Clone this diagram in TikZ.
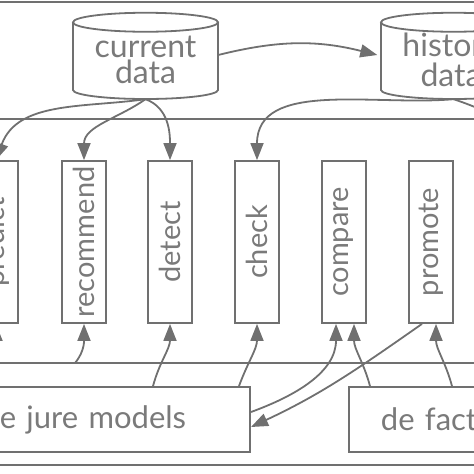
\documentclass[tikz,border=0pt]{standalone}
\usepackage{fontspec}
\setmainfont{Lato}
\usepackage{graphicx}
\usetikzlibrary{arrows.meta}
\definecolor{ln}{HTML}{707070}
\definecolor{tx}{HTML}{7A7A7A}
\begin{document}
\begin{tikzpicture}[x=1pt,y=1pt,
  lay/.style={draw=ln, line width=1.6pt, rectangle, inner sep=0pt, minimum width=520pt},
  verb/.style={draw=ln, line width=1.8pt, rectangle, inner sep=0pt, minimum width=44pt, minimum height=162pt, text=tx, font=\fontsize{29}{29}\selectfont},
  cyl/.style={rectangle, inner sep=0pt, minimum width=145pt, minimum height=86.5pt, align=center, text=tx, font=\fontsize{32}{26}\selectfont},
  cylline/.style={draw=ln, line width=1.8pt},
  model/.style={draw=ln, line width=1.8pt, rectangle, inner ysep=0pt, minimum height=65pt, text width=250pt, text=tx, font=\fontsize{31}{31}\selectfont},
  conn/.style={draw=ln, line width=1.8pt, -{Triangle[length=17pt,width=13pt]}},
]
\useasboundingbox (0,0) rectangle (474,-474);
\clip (0,0) rectangle (474,-474);
% layers
\node[lay, minimum height=117pt] (datalayer) at (237,-60.5) {};
\node[lay, minimum height=244pt] (actlayer) at (237,-241) {};
\node[lay, minimum height=102pt] (modlayer) at (237,-414) {};
% cylinders
\node[cyl] (cur) at (145.5,-60) {current\\data};
\draw[cylline] (145.5,-22.25) ellipse [x radius=72.5pt, y radius=9.5pt];
\draw[cylline] (73,-22.25) -- (73,-90) arc [start angle=180, end angle=360, x radius=72.5pt, y radius=9pt] -- (218,-22.25);
\node[cyl] (hist) at (451,-60) {history\\data};
\draw[cylline] (453.5,-22.25) ellipse [x radius=72.5pt, y radius=9.5pt];
\draw[cylline] (381,-22.25) -- (381,-90) arc [start angle=180, end angle=360, x radius=72.5pt, y radius=9pt] -- (526,-22.25);
% verbs
\node[verb] (predict) at (-4,-242) {\rotatebox{90}{predict}};
\node[verb] (recommend) at (84,-242) {\rotatebox{90}{recommend}};
\node[verb] (detect) at (170,-242) {\rotatebox{90}{detect}};
\node[verb] (check) at (257,-242) {\rotatebox{90}{check}};
\node[verb] (compare) at (344,-242) {\rotatebox{90}{compare}};
\node[verb] (promote) at (431,-242) {\rotatebox{90}{promote}};
% models
\node[model, anchor=east, align=right, inner xsep=64pt] (dejure) at (251,-419.5) {de jure models};
\node[model, anchor=west, align=left, inner xsep=32pt] (defacto) at (348,-419.5) {de facto models};
% connectors top
\draw[conn] ([yshift=5pt]cur.east) to[bend left=14] ([xshift=-1pt,yshift=5pt]hist.west);
\draw[conn] ([yshift=4.25pt]cur.south) to[out=188,in=70] (predict.north);
\draw[conn] ([yshift=4.25pt]cur.south) to[out=215,in=90] (recommend.north);
\draw[conn] ([yshift=4.25pt]cur.south) to[out=-20,in=90] (detect.north);
\draw[conn] ([xshift=2.5pt,yshift=4.25pt]hist.south) to[out=185,in=90] (check.north);
\coordinate (offr) at (518,-161);
\draw[conn] ([xshift=2.5pt,yshift=4.25pt]hist.south) to[out=-18,in=90] (offr);
% connectors bottom
\coordinate (pm) at (-13,-363);
\coordinate (rm) at (75,-363);
\draw[conn] (pm) to[out=50,in=-90] (predict.south);
\draw[conn] (rm) to[out=50,in=-90] (recommend.south);
\draw[conn] ([xshift=-98pt]dejure.north east) to[out=75,in=-90] (detect.south);
\draw[conn] ([xshift=-12pt]dejure.north east) to[out=70,in=-90] (check.south);
\draw[conn] ([yshift=7.5pt]dejure.east) to[out=20,in=-90] ([xshift=-8pt]compare.south);
\draw[conn] ([xshift=22pt]defacto.north west) to[out=105,in=-90] ([xshift=10pt]compare.south);
\draw[conn] ([xshift=104pt]defacto.north west) to[out=105,in=-90] ([xshift=5pt]promote.south);
\draw[conn] ([xshift=-9pt]promote.south) to[out=215,in=25] ([yshift=-7.5pt]dejure.east);
\end{tikzpicture}
\end{document}
